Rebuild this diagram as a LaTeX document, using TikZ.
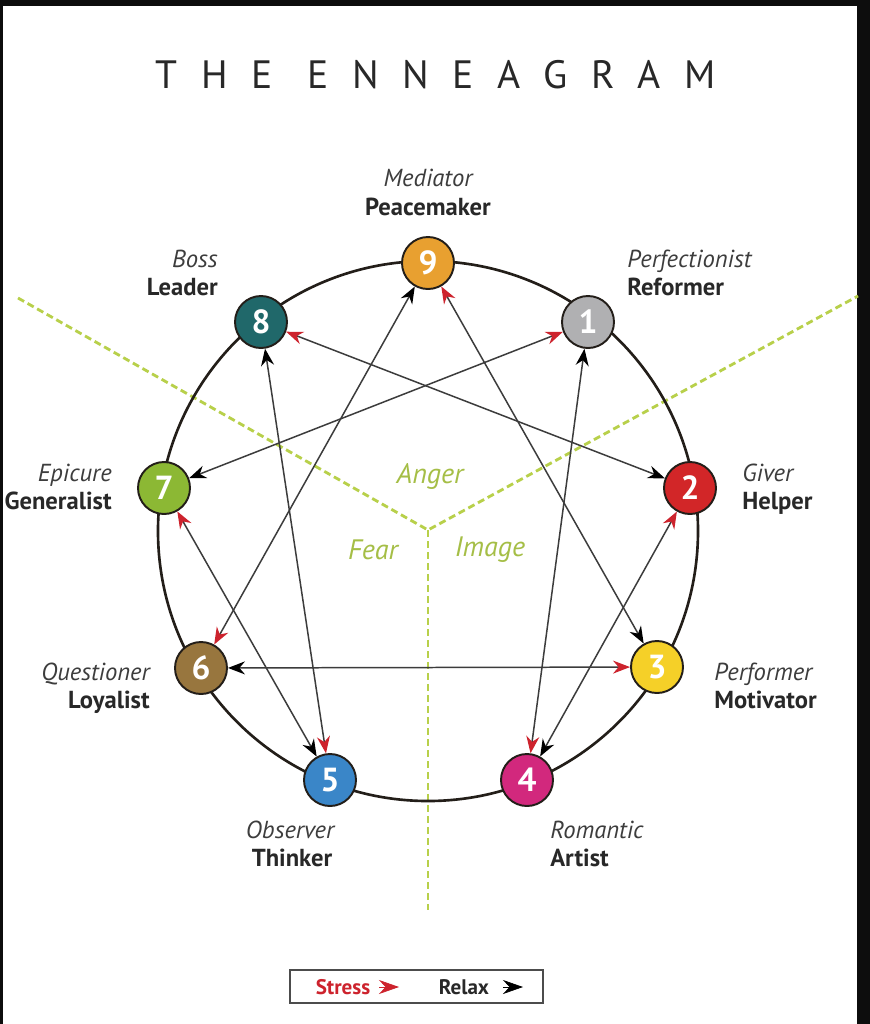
\documentclass[tikz,border=0pt]{standalone}
\usepackage{fontspec}
\setmainfont{PT Sans}
\usepackage{xcolor}
\usepackage{tikz}
\usetikzlibrary{arrows.meta,positioning}
\definecolor{enink}{RGB}{40,40,40}
\definecolor{enedge}{RGB}{35,30,25}
\definecolor{enline}{RGB}{60,60,60}
\definecolor{enzone}{RGB}{184,208,74}
\definecolor{enzonetext}{RGB}{165,190,70}
\definecolor{enred}{RGB}{205,35,45}
\definecolor{ennine}{RGB}{232,160,48}
\definecolor{enone}{RGB}{176,176,178}
\definecolor{entwo}{RGB}{210,38,40}
\definecolor{enthree}{RGB}{245,208,40}
\definecolor{enfour}{RGB}{210,40,125}
\definecolor{enfive}{RGB}{58,134,200}
\definecolor{ensix}{RGB}{152,118,62}
\definecolor{enseven}{RGB}{140,184,52}
\definecolor{eneight}{RGB}{32,104,106}
\tikzset{
  point/.style={
    circle, draw=enedge, line width=1.1pt, minimum size=10.4mm, inner sep=0pt,
    text=white, font=\fontsize{19}{20}\selectfont\bfseries
  },
  role/.style={font=\fontsize{14}{16}\selectfont\itshape, text=enink!90, inner sep=0pt},
  type/.style={font=\fontsize{14}{16}\selectfont\bfseries, text=enink, inner sep=0pt},
  zone/.style={draw=enzone, line width=1.6pt, dash pattern=on 1.4mm off 0.8mm},
  zonelbl/.style={font=\fontsize{16}{18}\selectfont\itshape, text=enzonetext},
  pairline/.style={
    draw=enline, line width=0.85pt,
    {Stealth[color=black,length=3.4mm,width=2.6mm]}-{Stealth[color=enred,length=3.4mm,width=2.6mm]}
  },
  stresstip/.style={-{Stealth[color=enred,length=4mm,width=2.8mm]}, draw=enred},
  relaxtip/.style={-{Stealth[color=black,length=4mm,width=2.8mm]}, draw=black},
  legend/.style={font=\fontsize{12}{14}\selectfont\bfseries, inner sep=0pt}
}

\begin{document}
\begin{tikzpicture}[x=0.2mm,y=-0.2mm]
  % frame of the page
  \useasboundingbox (0,0) rectangle (870,1024);
  \fill[black!95] (0,0) rectangle (870,1024);
  \fill[white] (3,6) rectangle (857,1024);

  % title
  \node[text=enink, font=\fontsize{22.5}{26}\selectfont\addfontfeatures{LetterSpace=60}] (title) at (436,75) {THE ENNEAGRAM};

  % centres of the three zones
  \coordinate (hub) at (428,530);
  \coordinate (zl) at (18,298);
  \coordinate (zr) at (858,296);
  \coordinate (zb) at (428,910);
  \draw[zone] (zl) -- (hub) -- (zr);
  \draw[zone] (hub) -- (zb);
  \node[zonelbl] (anger) at (430,476) {Anger};
  \node[zonelbl] (fear) at (373,550) {Fear};
  \node[zonelbl] (image) at (490,550) {Image};

  % outer ring
  \draw[enedge, line width=1.5pt] (428,531) circle[radius=54mm];

  % the nine points
  \node[point, fill=ennine] (n9) at (428,263) {9};
  \node[point, fill=enone] (n1) at (588,322) {1};
  \node[point, fill=entwo] (n2) at (690,488) {2};
  \node[point, fill=enthree] (n3) at (657,667) {3};
  \node[point, fill=enfour] (n4) at (527,780) {4};
  \node[point, fill=enfive] (n5) at (330,780) {5};
  \node[point, fill=ensix] (n6) at (201,668) {6};
  \node[point, fill=enseven] (n7) at (164,488) {7};
  \node[point, fill=eneight] (n8) at (261,322) {8};

  % lines: red tip = stress, black tip = relax
  \foreach \a/\b in {1/4,4/2,2/8,8/5,5/7,7/1,9/6,6/3,3/9}
    \draw[pairline] (n\a) -- (n\b);

  % names
  \node[role, anchor=base] (r9) at (428,186) {Mediator};
  \node[type, anchor=base] (t9) at (428,215) {Peacemaker};
  \node[role, anchor=base east] (r8) at (218,267) {Boss};
  \node[type, anchor=base east] (t8) at (218,295) {Leader};
  \node[role, anchor=base west] (r1) at (627,267) {Perfectionist};
  \node[type, anchor=base west] (t1) at (627,295) {Reformer};
  \node[role, anchor=base east] (r7) at (112,481) {Epicure};
  \node[type, anchor=base east] (t7) at (112,509) {Generalist};
  \node[role, anchor=base west] (r2) at (742,481) {Giver};
  \node[type, anchor=base west] (t2) at (742,509) {Helper};
  \node[role, anchor=base east] (r6) at (150,680) {Questioner};
  \node[type, anchor=base east] (t6) at (150,708) {Loyalist};
  \node[role, anchor=base west] (r3) at (714,680) {Performer};
  \node[type, anchor=base west] (t3) at (714,708) {Motivator};
  \node[role, anchor=base] (r5) at (290,838) {Observer};
  \node[type, anchor=base] (t5) at (292,866) {Thinker};
  \node[role, anchor=base west] (r4) at (550,838) {Romantic};
  \node[type, anchor=base west] (t4) at (550,866) {Artist};

  % legend
  \node[draw=black!70, line width=1.3pt, minimum width=50.6mm, minimum height=6.6mm] (key) at (416.5,986.5) {};
  \node[legend, text=enred] (kstress) at (343,987) {Stress};
  \node[legend, text=enink] (krelax) at (464,987) {Relax};
  \coordinate (s1) at (379,987);
  \coordinate (s2) at (399,987);
  \coordinate (x1) at (503,987);
  \coordinate (x2) at (523,987);
  \draw[stresstip] (s1) -- (s2);
  \draw[relaxtip] (x1) -- (x2);
\end{tikzpicture}
\end{document}
